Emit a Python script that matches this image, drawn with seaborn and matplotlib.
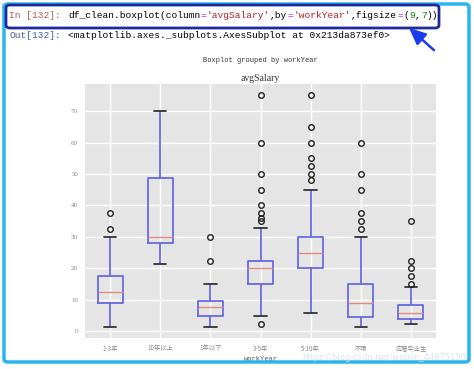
import numpy as np
import pandas as pd
import seaborn as sns
import matplotlib.pyplot as plt
from matplotlib.patches import FancyBboxPatch, FancyArrowPatch

# values
categories = ['1-3年', '10年以上', '1年以下', '3-5年', '5-10年', '不限', '应届毕业生']
q1 = [9, 28, 5, 15, 20, 4.5, 4]
med = [12.5, 30, 7.75, 20, 25, 9, 6]
q3 = [17.5, 48.75, 9.5, 22.5, 30, 15, 8.25]
whislo = [1.5, 21.5, 1.5, 5, 6, 1.5, 2.5]
whishi = [30, 70, 15, 33, 45, 30, 14]
fliers = [[32.5, 37.5],
          [],
          [22.5, 30],
          [2.5, 35, 36, 37.5, 40, 45, 50, 60, 75],
          [48, 50, 52.5, 55, 60, 65, 75],
          [32.5, 35, 37.5, 45, 50, 60],
          [15, 17.5, 20, 22.5, 35]]
yticks = [0, 10, 20, 30, 40, 50, 60, 70]

code_parts = [("df_clean.boxplot(column", "black"), ("=", "#AA22FF"), ("'avgSalary'", "#BA2121"),
              (",by", "black"), ("=", "#AA22FF"), ("'workYear'", "#BA2121"), (",figsize", "black"),
              ("=", "#AA22FF"), ("(", "black"), ("9", "#008800"), (",", "black"), ("7", "#008800"),
              ("))", "black")]
out_text = "<matplotlib.axes._subplots.AxesSubplot at 0x213da873ef0>"

sns.set_theme(style="darkgrid", rc={
    "axes.facecolor": "#E5E5E5",
    "grid.color": "white",
    "grid.linewidth": 1.0,
    "xtick.color": "#777777",
    "ytick.color": "#777777",
    "xtick.major.size": 2,
    "ytick.major.size": 2,
    "xtick.major.width": 0.6,
    "ytick.major.width": 0.6,
    "xtick.major.pad": 3,
    "ytick.major.pad": 3,
})
plt.rcParams['font.family'] = ['Liberation Serif', 'Noto Sans CJK SC', 'DejaVu Sans']

W, H = 474, 369
fig = plt.figure(figsize=(W / 100, H / 100), dpi=100)
fig.patch.set_facecolor('white')
renderer = fig.canvas.get_renderer()


def fx(x):
    return x / W


def fy(y):
    return 1 - y / H


# notebook frame
fig.patches.append(FancyBboxPatch((fx(4), fy(362)), fx(465), 358 / H, transform=fig.transFigure,
                                  boxstyle="round,pad=0,rounding_size=0.008", fill=False,
                                  edgecolor='#2BB5EE', linewidth=2.5))
fig.patches.append(FancyBboxPatch((fx(6), fy(28)), fx(433), 23 / H, transform=fig.transFigure,
                                  boxstyle="round,pad=0,rounding_size=0.008", fill=False,
                                  edgecolor='#1E2A9C', linewidth=2))
fig.patches.append(FancyArrowPatch((fx(436), fy(52)), (fx(407), fy(26)), transform=fig.transFigure,
                                   arrowstyle='-|>,head_length=10,head_width=4.5', color='#1A3CF0',
                                   linewidth=1.8, mutation_scale=1))

mono = 'Liberation Mono'
fs_code = 6.8
fig.text(fx(9), fy(16), "In [132]:", family=mono, fontsize=fs_code, color='#B05A50', va='center')
# place the coloured pieces one after another using their drawn widths
xpos = 68
for txt, col in code_parts:
    t = fig.text(fx(xpos), fy(16), txt, family=mono, fontsize=fs_code, color=col, va='center')
    xpos = t.get_window_extent(renderer).x1 + 0.2
fig.text(fx(9), fy(36), "Out[132]:", family=mono, fontsize=fs_code, color='#3A62A8', va='center')
fig.text(fx(68), fy(36), out_text, family=mono, fontsize=fs_code, color='black', va='center')

# the chart
ax = fig.add_axes([fx(85), fy(338), fx(436) - fx(85), (338 - 84) / H])
stats = []
for i, c in enumerate(categories):
    stats.append(dict(label=c, q1=q1[i], med=med[i], q3=q3[i],
                      whislo=whislo[i], whishi=whishi[i], fliers=fliers[i]))
box_col = '#6A6AE0'
ax.bxp(stats, positions=range(1, len(categories) + 1), widths=0.5,
       boxprops=dict(color=box_col, linewidth=1.3),
       whiskerprops=dict(color=box_col, linewidth=1.3),
       medianprops=dict(color='#E08A80', linewidth=1.0),
       capprops=dict(color='#333333', linewidth=1.3),
       flierprops=dict(marker='o', markerfacecolor='none', markeredgecolor='#222222',
                       markersize=4, markeredgewidth=1.0))
ax.set_xlim(0.5, len(categories) + 0.5)
ax.set_ylim(-2.1, 78.6)
ax.set_yticks(yticks)
ax.set_yticklabels([str(v) for v in yticks], fontsize=5, color='#888888')
ax.set_xticks(range(1, len(categories) + 1))
ax.set_xticklabels(categories, fontsize=4.5, color='#888888', family=['Noto Sans CJK SC', 'DejaVu Sans'])
ax.grid(True, color='white', linewidth=1.0)
for s in ax.spines.values():
    s.set_visible(False)

ax.set_title('avgSalary', fontsize=7, color='#333333', pad=2.5, family='Liberation Serif')
ax.set_xlabel('workYear', fontsize=5, color='#555555', family=mono, labelpad=2)
fig.text(fx(260), fy(60), 'Boxplot grouped by workYear', family=mono, fontsize=5,
         color='#333333', ha='center', va='center')

# faint watermark
fig.text(fx(466), fy(357), 'https://blog.csdn.net/weixin_44875190', fontsize=6,
         color='#DDE4EE', ha='right', va='center', family='DejaVu Sans')

fig.savefig('out.png', dpi=100)
